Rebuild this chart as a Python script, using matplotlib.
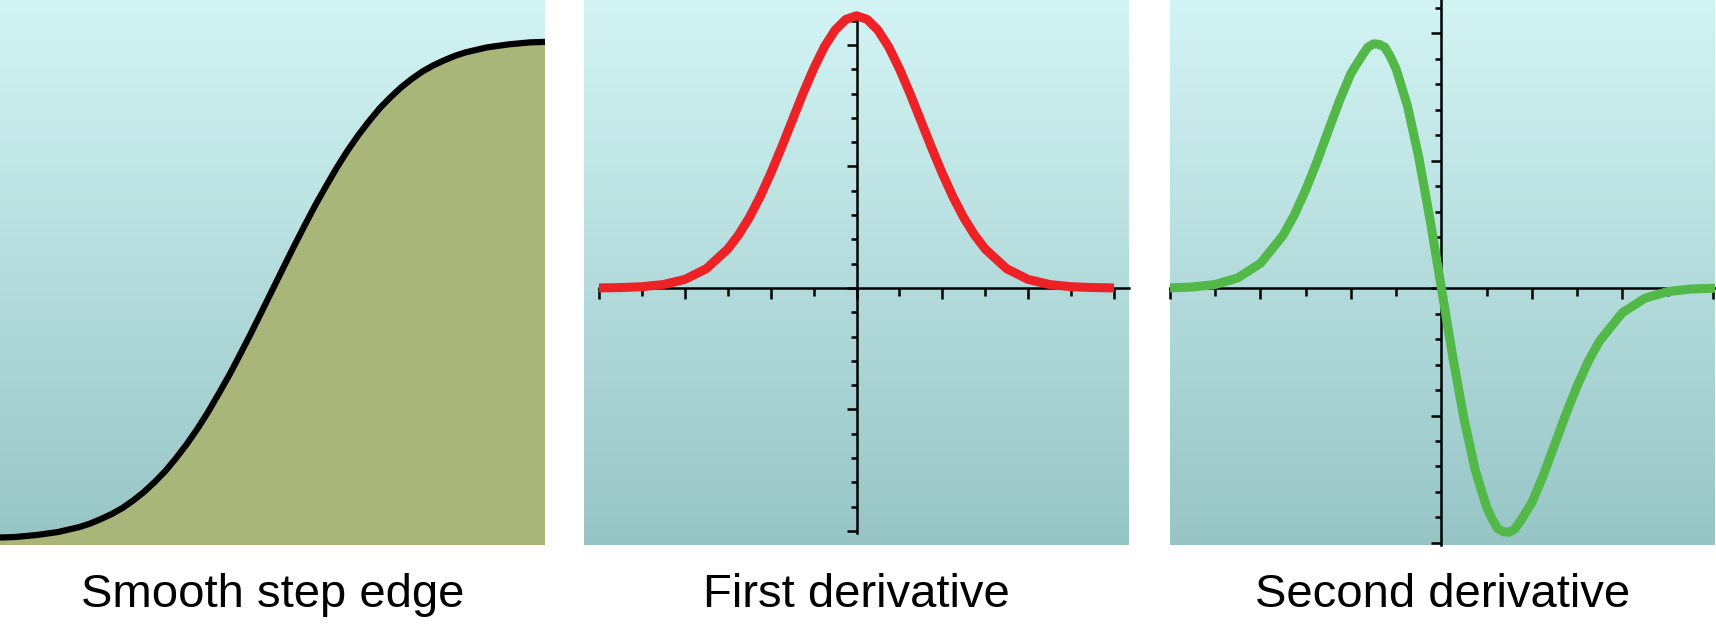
import numpy as np
import matplotlib
matplotlib.use("Agg")
import matplotlib.pyplot as plt
from matplotlib.colors import LinearSegmentedColormap
from matplotlib.ticker import MultipleLocator

# ---- data ----
titles = ["Smooth step edge", "First derivative", "Second derivative"]

step_x_pos = [0, 0.25, 0.5, 0.75, 1, 1.25, 1.5, 1.75, 2, 2.25, 2.5, 2.75, 3, 3.25, 3.5, 3.75, 4, 4.25,
              4.5, 5, 5.5, 6, 6.35]
step_y_pos = [0.5, 0.5437, 0.587, 0.629, 0.670, 0.708, 0.745, 0.779, 0.810, 0.838, 0.864, 0.886, 0.906,
              0.923, 0.938, 0.950, 0.960, 0.969, 0.976, 0.986, 0.992, 0.996, 0.997]
step_x = [-v for v in step_x_pos[::-1]] + step_x_pos[1:]
step_y = [round(1 - v, 4) for v in step_y_pos[::-1]] + step_y_pos[1:]

d1_x_pos = [0, 0.25, 0.5, 0.75, 1, 1.25, 1.5, 1.75, 2, 2.25, 2.5, 2.75, 3, 3.5, 4, 4.5, 5, 5.5, 6]
d1_y_pos = [11.2, 11.05, 10.61, 9.92, 9.02, 7.99, 6.88, 5.77, 4.71, 3.74, 2.89, 2.18, 1.60, 0.79,
            0.35, 0.14, 0.05, 0.015, 0.0]
d1_x = [-v for v in d1_x_pos[::-1]] + d1_x_pos[1:]
d1_y = d1_y_pos[::-1] + d1_y_pos[1:]

d2_x_pos = [0, 0.25, 0.5, 0.75, 1, 1.125, 1.25, 1.375, 1.5, 1.625, 1.75, 2, 2.25, 2.5, 2.75, 3, 3.25,
            3.5, 4, 4.5, 5, 5.5, 6]
d2_y_pos = [0.0, -2.68, -5.13, -7.15, -8.59, -9.07, -9.45, -9.56, -9.58, -9.45, -9.13, -8.42, -7.36,
            -6.17, -4.96, -3.85, -2.87, -2.07, -0.97, -0.40, -0.14, -0.04, -0.01]
d2_x = [-v for v in d2_x_pos[::-1]] + d2_x_pos[1:] + [6.05]
d2_y = [-v for v in d2_y_pos[::-1]] + d2_y_pos[1:] + [-0.01]

plt.rcParams['font.family'] = ['Liberation Sans', 'DejaVu Sans']

W, H = 1716, 625
fig = plt.figure(figsize=(W / 100, H / 100), dpi=100)
fig.patch.set_facecolor('white')

cmap = LinearSegmentedColormap.from_list('bg', ['#97c5c6', '#d3f4f4'])
grad = np.linspace(0, 1, 256).reshape(-1, 1)

lefts = [0, 584, 1170]
pw, ph = 545, 545
axes = []
for l in lefts:
    ax = fig.add_axes([l / W, 1 - ph / H, pw / W, ph / H])
    ax.imshow(grad, cmap=cmap, origin='lower', aspect='auto',
              extent=[0, 1, 0, 1], transform=ax.transAxes, zorder=0)
    axes.append(ax)

# panel 1
ax = axes[0]
ax.fill_between(step_x, step_y, -1, color='#a9b67a', zorder=2)
ax.plot(step_x, step_y, color='black', lw=4.5, zorder=3, solid_capstyle='butt', solid_joinstyle='round')
ax.set_xlim(-6.35, 6.35)
ax.set_ylim(-0.012, 1.081)
ax.set_axis_off()


def setup_axes(ax, xlim, ylim, xb, yb, ymajor):
    ax.set_xlim(*xlim)
    ax.set_ylim(*ylim)
    for s in ['top', 'right']:
        ax.spines[s].set_visible(False)
    ax.spines['left'].set_position(('data', 0))
    ax.spines['bottom'].set_position(('data', 0))
    ax.spines['left'].set_bounds(*yb)
    ax.spines['bottom'].set_bounds(*xb)
    for s in ['left', 'bottom']:
        ax.spines[s].set_linewidth(1.8)
        ax.spines[s].set_zorder(2)
    ax.xaxis.set_major_locator(MultipleLocator(2))
    ax.xaxis.set_minor_locator(MultipleLocator(1))
    ax.yaxis.set_major_locator(MultipleLocator(ymajor))
    ax.yaxis.set_minor_locator(MultipleLocator(1))
    ax.tick_params(which='both', direction='out', labelleft=False, labelbottom=False, width=1.8)
    ax.tick_params(axis='x', which='major', length=8)
    ax.tick_params(axis='x', which='minor', length=6)
    ax.tick_params(axis='y', which='major', length=7)
    ax.tick_params(axis='y', which='minor', length=4)
    ax.set_xticks([t for t in ax.get_xticks() if xb[0] - 1e-6 <= t <= xb[1] + 1e-6])
    ax.set_yticks([t for t in ax.get_yticks() if yb[0] - 1e-6 <= t <= yb[1] + 1e-6])


# panel 2
ax = axes[1]
setup_axes(ax, (-6.35, 6.35), (-10.58, 11.85), (-6, 6.35), (-10.1, 11.2), 5)
ax.plot(d1_x, d1_y, color='#ec2226', lw=6.5, zorder=3, solid_capstyle='butt', solid_joinstyle='round')

# panel 3
ax = axes[2]
setup_axes(ax, (-6.0, 6.05), (-10.08, 11.3), (-6, 6.05), (-10.08, 11.3), 5)
ax.plot(d2_x, d2_y, color='#52b848', lw=6.5, zorder=3, solid_capstyle='butt', solid_joinstyle='round')

for l, t in zip(lefts, titles):
    fig.text((l + pw / 2) / W, 1 - 595 / H, t, ha='center', va='center', fontsize=34)

fig.savefig('out.png', dpi=100)
